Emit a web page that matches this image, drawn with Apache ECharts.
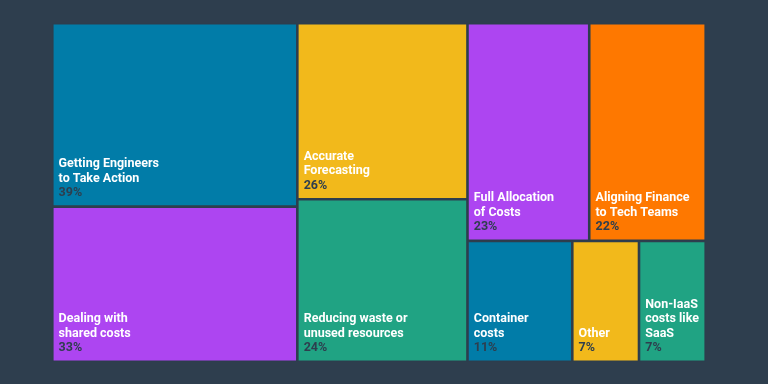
<!DOCTYPE html>
<html>
<head>
<meta charset="utf-8">
<script src="https://cdn.jsdelivr.net/npm/echarts@6/dist/echarts.min.js"></script>
<style>
html,body{margin:0;padding:0;background:#2e3e4e;}
#c{width:768px;height:384px;}
</style>
</head>
<body>
<div id="c"></div>
<script>
const categories = [
  "Getting Engineers\nto Take Action",
  "Dealing with\nshared costs",
  "Accurate\nForecasting",
  "Reducing waste or\nunused resources",
  "Full Allocation\nof Costs",
  "Aligning Finance\nto Tech Teams",
  "Container\ncosts",
  "Other",
  "Non-IaaS\ncosts like\nSaaS"
];
const values = [39, 33, 26, 24, 23, 22, 11, 7, 7];
const palette = ["#017ca8", "#ad45f1", "#f2b91b", "#20a383", "#ad45f1", "#fe7800", "#017ca8", "#f2b91b", "#20a383"];
const bg = "#2e3e4e";

const BORDER = 1.3;
const LINE_H = 14.5;
const FONT = 12.5;
const PAD_BOTTOM = 5;
const PAD_LEFT = 5;

function buildData(layouts) {
  return categories.map((n, i) => {
    const item = { name: n, value: values[i], itemStyle: { color: palette[i] } };
    if (layouts && layouts[n]) {
      const h = layouts[n].height - 2 * BORDER;
      const lines = n.split('\n').length + 1;
      const top = Math.max(0, h - lines * LINE_H - PAD_BOTTOM);
      item.label = { padding: [top, 0, 0, PAD_LEFT] };
    }
    return item;
  });
}

function makeOption(data) {
  return {
    backgroundColor: bg,
    series: [{
      type: 'treemap',
      left: 51, top: 22, width: 656, height: 341,
      roam: false,
      nodeClick: false,
      squareRatio: 1,
      sort: false,
      breadcrumb: { show: false },
      animation: false,
      itemStyle: { borderColor: bg, borderWidth: BORDER, gapWidth: 0 },
      label: {
        show: true,
        position: 'insideTopLeft',
        padding: [0, 0, 0, PAD_LEFT],
        fontFamily: 'Roboto',
        formatter: p => p.name.split('\n').map(s => '{n|' + s + '}').join('\n') + '\n{v|' + p.value + '%}',
        rich: {
          n: { color: '#ffffff', fontWeight: 'bold', fontSize: FONT, lineHeight: LINE_H, fontFamily: 'Roboto' },
          v: { color: '#2e3e4e', fontWeight: 'bold', fontSize: FONT, lineHeight: LINE_H, fontFamily: 'Roboto' }
        }
      },
      data: data
    }]
  };
}

const chart = echarts.init(document.getElementById('c'));
chart.setOption(makeOption(buildData(null)));

// read the library's computed layout to push labels to the bottom of each cell
const layouts = {};
try {
  const sm = chart.getModel().getSeriesByIndex(0);
  const tree = sm.getData().tree;
  tree.root.children.forEach(node => {
    layouts[node.name] = node.getLayout();
  });
} catch (e) {}
chart.setOption(makeOption(buildData(layouts)), true);
</script>
</body>
</html>
